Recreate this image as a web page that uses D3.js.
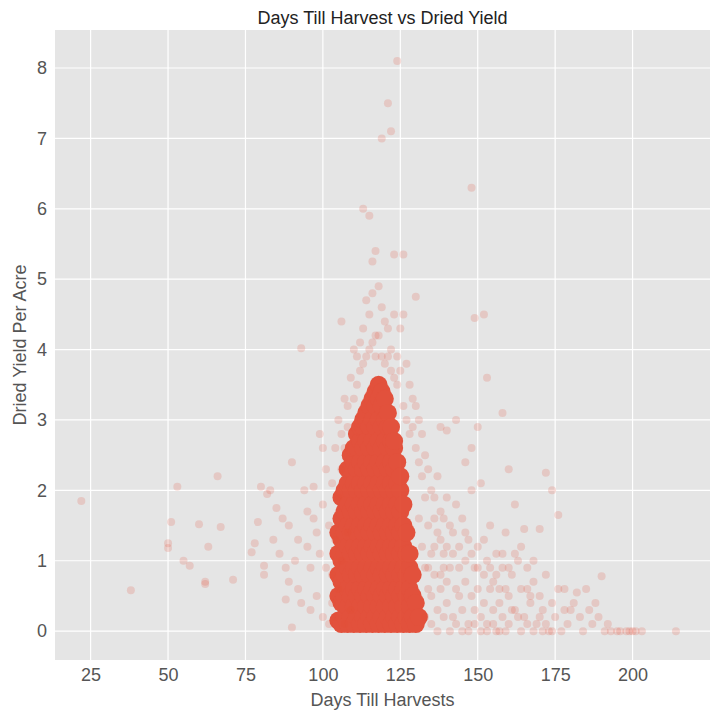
<!DOCTYPE html>
<html><head><meta charset="utf-8">
<script src="https://cdn.jsdelivr.net/npm/d3@7/dist/d3.min.js"></script>
<style>body{margin:0;background:#fff}text{font-family:"Liberation Sans",Arial,sans-serif}</style>
</head><body><svg id="c" width="720" height="720"></svg>
<script>
const title = "Days Till Harvest vs Dried Yield";
const xLabel = "Days Till Harvests";
const yLabel = "Dried Yield Per Acre";
const xTicks = [25,50,75,100,125,150,175,200];
const yTicks = [0,1,2,3,4,5,6,7,8];
// sparse points: "days,yield" pairs
const sparse = ("22,1.85 38,0.58 50,1.25 50,1.18 51,1.55 53,2.05 55,1.0 57,0.93 60,1.52 62,0.7 62,0.67 63,1.2 66,2.2 67,1.48 71,0.73 77,1.12 78,1.25 79,1.55 80,2.05 81,0.93 81,0.8 82,1.95 83,2.0 84,1.3 85,1.75 86,1.1 87,1.6 88,0.45 89,1.5 90,2.4 90,0.05 91,1.0 92,1.3 93,4.02 94,2.0 95,1.7 96,0.9 97,2.05 98,1.4 99,2.8 100,2.6 101,2.3 106,4.4 113,6.0 115,5.9 117,5.4 116,5.25 119,7.0 121,7.5 122,7.1 124,8.1 123,5.35 126,5.35 130,4.75 148,6.3 149,4.45 152,4.5 153,3.6 158,3.1 172,2.25 176,1.65 174,2.0 190,0.78 191,0 193,0 195,0 196,0 198,0 199,0 200,0 201,0 203,0 214,0 188,0.4 185,0.6 182,0.55 178,0.6 180,0.3 170,1.45 165,1.45 162,1.8 160,2.3 150,2.9 148,2.6 146,2.4 143,3.0 140,2.85 138,2.9 " +
"88,0.9 89,0.7 92,0.6 93,0.4 95,1.2 96,0.3 97,1.6 98,0.5 99,1.1 100,0.2 100,1.8 101,0.9 102,0.1 102,1.5 103,2.1 103,0.4 104,2.6 105,3.0 106,2.8 107,3.3 108,3.2 109,3.6 110,4.0 111,3.9 112,4.1 113,4.3 114,4.7 115,4.5 116,4.8 117,4.2 118,4.9 119,4.6 120,4.4 121,4.3 122,4.0 123,4.5 124,3.9 125,4.3 126,4.5 127,3.8 128,3.5 129,3.3 130,3.2 131,3.0 132,2.8 133,2.5 134,2.3 135,2.0 136,1.9 137,2.2 138,1.7 139,1.6 140,1.9 141,1.5 142,1.4 143,1.8 144,1.2 145,1.6 146,1.0 147,1.3 148,2.0 149,0.9 150,1.2 151,2.1 152,0.8 153,1.0 154,1.5 155,0.7 156,1.1 157,0.6 158,0.9 159,1.4 160,0.5 161,0.8 162,0.3 163,1.0 164,0.6 165,0.2 166,0.9 167,0.4 168,0.7 169,0.1 170,0.5 171,0.3 172,0.8 173,0.0 174,0.4 175,0.2 176,0.6 177,0.0 178,0.3 179,0.1 181,0.4 183,0.2 184,0.0 186,0.3 187,0.1 189,0.2 192,0.1 " +
"134,0.9 135,0.5 136,1.2 137,0.3 138,0.8 139,1.1 140,0.4 141,0.9 142,0.2 143,0.6 144,0.5 145,0.3 146,0.7 147,0.1 148,0.5 149,0.3 150,0.6 151,0.2 152,0.4 153,0.1 154,0.6 155,0.3 156,0.0 157,0.4 158,0.2 159,0.6 160,0.1 161,0.3 163,0.2 164,0.0 166,0.1 167,0.5 168,0.0 170,0.2 171,0.0 172,0.1 174,0.0 134,1.5 136,1.6 138,1.3 140,1.2 142,1.1 144,0.9 146,1.4 148,1.1 150,0.9 152,1.3 154,0.9 156,0.8 158,1.1 160,0.9 162,1.1 164,1.2 166,0.6 168,1.0 133,0.2 135,0.1 137,0.0 139,0.2 141,0.0 143,0.1 145,0.0 147,0.0 149,0.1 151,0.0 153,0.0 155,0.1 157,0.0 159,0.0 " +
"103,0.8 104,1.3 104,0.2 105,1.9 105,0.6 106,2.3 106,1.0 107,0.1 107,2.6 108,1.4 108,2.9 109,0.3 110,3.3 111,3.5 112,3.7 113,3.8 114,3.9 115,4.0 116,4.1 117,3.9 118,4.2 119,3.9 120,3.8 121,3.9 122,3.7 123,3.6 124,3.5 125,3.7 126,3.2 127,3.0 128,2.8 129,2.9 130,2.6 131,2.4 132,2.2 133,1.9 131,1.6 132,1.2 133,0.9 134,0.6 135,1.1 136,0.8 137,1.4 138,0.6 139,0.9 140,0.7").split(" ").map(s=>s.split(",").map(Number));
// dense core points
const core = ("105,0.15 105,0.5 105,0.8 105,1.1 105,1.4 106,0.1 106,0.4 106,0.7 106,1.0 106,1.3 106,1.6 106,1.9 107,0.2 107,0.5 107,0.8 107,1.1 107,1.4 107,1.7 107,2.0 108,0.1 108,0.35 108,0.6 108,0.9 108,1.2 108,1.5 108,1.8 108,2.1 108,2.3 109,0.2 109,0.5 109,0.8 109,1.1 109,1.4 109,1.7 109,2.0 109,2.3 109,2.5 110,0.1 110,0.35 110,0.6 110,0.9 110,1.2 110,1.5 110,1.8 110,2.1 110,2.4 110,2.6 111,0.2 111,0.5 111,0.8 111,1.1 111,1.4 111,1.7 111,2.0 111,2.3 111,2.6 111,2.8 112,0.1 112,0.35 112,0.6 112,0.9 112,1.2 112,1.5 112,1.8 112,2.1 112,2.4 112,2.7 112,2.9 113,0.2 113,0.5 113,0.8 113,1.1 113,1.4 113,1.7 113,2.0 113,2.3 113,2.6 113,2.9 113,3.0 114,0.1 114,0.35 114,0.6 114,0.9 114,1.2 114,1.5 114,1.8 114,2.1 114,2.4 114,2.7 114,3.0 114,3.1 115,0.2 115,0.5 115,0.8 115,1.1 115,1.4 115,1.7 115,2.0 115,2.3 115,2.6 115,2.9 115,3.2 116,0.1 116,0.35 116,0.6 116,0.9 116,1.2 116,1.5 116,1.8 116,2.1 116,2.4 116,2.7 116,3.0 116,3.3 117,0.2 117,0.5 117,0.8 117,1.1 117,1.4 117,1.7 117,2.0 117,2.3 117,2.6 117,2.9 117,3.2 117,3.4 118,0.1 118,0.35 118,0.6 118,0.9 118,1.2 118,1.5 118,1.8 118,2.1 118,2.4 118,2.7 118,3.0 118,3.3 118,3.5 119,0.2 119,0.5 119,0.8 119,1.1 119,1.4 119,1.7 119,2.0 119,2.3 119,2.6 119,2.9 119,3.2 119,3.4 120,0.1 120,0.35 120,0.6 120,0.9 120,1.2 120,1.5 120,1.8 120,2.1 120,2.4 120,2.7 120,3.0 120,3.3 121,0.2 121,0.5 121,0.8 121,1.1 121,1.4 121,1.7 121,2.0 121,2.3 121,2.6 121,2.9 121,3.1 122,0.1 122,0.35 122,0.6 122,0.9 122,1.2 122,1.5 122,1.8 122,2.1 122,2.4 122,2.7 122,2.9 123,0.2 123,0.5 123,0.8 123,1.1 123,1.4 123,1.7 123,2.0 123,2.3 123,2.6 123,2.7 124,0.1 124,0.35 124,0.6 124,0.9 124,1.2 124,1.5 124,1.8 124,2.1 124,2.4 125,0.2 125,0.5 125,0.8 125,1.1 125,1.4 125,1.7 125,2.0 125,2.2 126,0.1 126,0.35 126,0.6 126,0.9 126,1.2 126,1.5 126,1.8 127,0.2 127,0.5 127,0.8 127,1.1 127,1.4 128,0.1 128,0.35 128,0.6 128,0.9 128,1.1 129,0.2 129,0.5 129,0.8 130,0.1 130,0.4 131,0.2").split(" ").map(s=>s.split(",").map(Number));

const svg = d3.select("#c");
const m = {l:55, r:710, t:30, b:660};
const x = d3.scaleLinear().domain([13.5,225]).range([m.l,m.r]);
const y = d3.scaleLinear().domain([-0.41,8.54]).range([m.b,m.t]);
svg.append("rect").attr("x",m.l).attr("y",m.t).attr("width",m.r-m.l).attr("height",m.b-m.t).attr("fill","#e5e5e5");
svg.append("g").selectAll("line").data(xTicks).join("line").attr("x1",d=>x(d)).attr("x2",d=>x(d)).attr("y1",m.t).attr("y2",m.b).attr("stroke","#fff").attr("stroke-width",1.2);
svg.append("g").selectAll("line").data(yTicks).join("line").attr("y1",d=>y(d)).attr("y2",d=>y(d)).attr("x1",m.l).attr("x2",m.r).attr("stroke","#fff").attr("stroke-width",1.2);
svg.append("g").selectAll("circle").data(sparse).join("circle").attr("cx",d=>x(d[0])).attr("cy",d=>y(d[1])).attr("r",4).attr("fill","#E24A33").attr("opacity",0.18);
svg.append("g").attr("opacity",0.95).selectAll("circle").data(core).join("circle").attr("cx",d=>x(d[0])).attr("cy",d=>y(d[1])).attr("r",9).attr("fill","#E24A33");
const xa = svg.append("g").attr("transform",`translate(0,${m.b})`).call(d3.axisBottom(x).tickValues(xTicks).tickSize(0).tickPadding(8));
const ya = svg.append("g").attr("transform",`translate(${m.l},0)`).call(d3.axisLeft(y).tickValues(yTicks).tickSize(0).tickPadding(8));
[xa,ya].forEach(a=>{a.select(".domain").remove();a.selectAll("text").attr("font-size",18).attr("fill","#555").attr("font-family","Liberation Sans, Arial");});
svg.append("text").attr("x",(m.l+m.r)/2).attr("y",24).attr("text-anchor","middle").attr("font-size",18).attr("fill","#222").text(title);
svg.append("text").attr("x",(m.l+m.r)/2).attr("y",706).attr("text-anchor","middle").attr("font-size",18).attr("fill","#555").text(xLabel);
svg.append("text").attr("transform",`translate(26,${(m.t+m.b)/2}) rotate(-90)`).attr("text-anchor","middle").attr("font-size",18).attr("fill","#555").text(yLabel);
</script></body></html>
